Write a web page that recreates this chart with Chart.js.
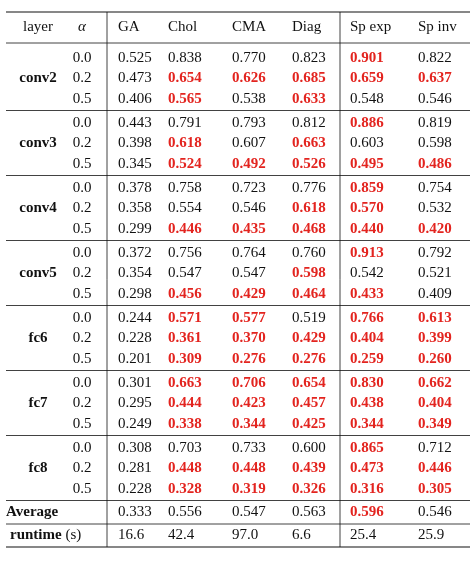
<!DOCTYPE html>
<html><head><meta charset="utf-8">
<script src="https://cdn.jsdelivr.net/npm/chart.js@4"></script>
<style>html,body{margin:0;padding:0;background:#fff}#w{width:474px;height:566px}</style>
</head><body><div id="w"><canvas id="c"></canvas></div>
<script>
const headers = ["layer","α","GA","Chol","CMA","Diag","Sp exp","Sp inv"];
const layers = ["conv2","conv3","conv4","conv5","fc6","fc7","fc8"];
const alphas = ["0.0","0.2","0.5"];
const values = [
 ["0.525","0.838","0.770","0.823","*0.901","0.822"],
 ["0.473","*0.654","*0.626","*0.685","*0.659","*0.637"],
 ["0.406","*0.565","0.538","*0.633","0.548","0.546"],
 ["0.443","0.791","0.793","0.812","*0.886","0.819"],
 ["0.398","*0.618","0.607","*0.663","0.603","0.598"],
 ["0.345","*0.524","*0.492","*0.526","*0.495","*0.486"],
 ["0.378","0.758","0.723","0.776","*0.859","0.754"],
 ["0.358","0.554","0.546","*0.618","*0.570","0.532"],
 ["0.299","*0.446","*0.435","*0.468","*0.440","*0.420"],
 ["0.372","0.756","0.764","0.760","*0.913","0.792"],
 ["0.354","0.547","0.547","*0.598","0.542","0.521"],
 ["0.298","*0.456","*0.429","*0.464","*0.433","0.409"],
 ["0.244","*0.571","*0.577","0.519","*0.766","*0.613"],
 ["0.228","*0.361","*0.370","*0.429","*0.404","*0.399"],
 ["0.201","*0.309","*0.276","*0.276","*0.259","*0.260"],
 ["0.301","*0.663","*0.706","*0.654","*0.830","*0.662"],
 ["0.295","*0.444","*0.423","*0.457","*0.438","*0.404"],
 ["0.249","*0.338","*0.344","*0.425","*0.344","*0.349"],
 ["0.308","0.703","0.733","0.600","*0.865","0.712"],
 ["0.281","*0.448","*0.448","*0.439","*0.473","*0.446"],
 ["0.228","*0.328","*0.319","*0.326","*0.316","*0.305"]
];
const average = ["0.333","0.556","0.547","0.563","*0.596","0.546"];
const runtime = ["16.6","42.4","97.0","6.6","25.4","25.9"];

const colX = [118,168,232,292,350,418];
const groupTop = 48, groupH = 65, rowH = 20.5;
const FONT = "'Liberation Serif', 'DejaVu Serif', serif";
const RED = "#e3241f";

const tablePlugin = {
  id:'table',
  afterDraw(chart){
    const ctx = chart.ctx, X = v=>chart.scales.x.getPixelForValue(v), Y = v=>chart.scales.y.getPixelForValue(v);
    ctx.save();
    ctx.textBaseline='middle';
    const txt=(s,x,y,opt={})=>{
      let red=false; if(s.startsWith('*')){red=true;s=s.slice(1);}
      ctx.font=(red||opt.bold?'bold ':'')+(opt.italic?'italic ':'')+'15px '+FONT;
      ctx.fillStyle=red?RED:'#111';
      ctx.textAlign=opt.align||'left';
      ctx.fillText(s,X(x),Y(y));
    };
    const hline=(y,w)=>{ctx.strokeStyle='#111';ctx.lineWidth=w||0.8;ctx.beginPath();ctx.moveTo(X(6),Y(y));ctx.lineTo(X(470),Y(y));ctx.stroke();};
    const vline=(x,y0,y1)=>{ctx.strokeStyle='#111';ctx.lineWidth=0.8;ctx.beginPath();ctx.moveTo(X(x),Y(y0));ctx.lineTo(X(x),Y(y1));ctx.stroke();};
    hline(12,1.2);
    txt(headers[0],38,27,{align:'center'}); txt(headers[1],82,27,{align:'center',italic:true});
    for(let c=0;c<6;c++) txt(headers[c+2],colX[c],27);
    hline(43,0.8);
    for(let g=0;g<layers.length;g++){
      const top=groupTop+g*groupH;
      for(let r=0;r<3;r++){
        const y=top+10+r*rowH, row=values[g*3+r];
        txt(alphas[r],82,y,{align:'center'});
        for(let c=0;c<6;c++) txt(row[c],colX[c],y);
      }
      txt(layers[g],38,top+10+rowH,{align:'center',bold:true});
      hline(top+groupH-2.5,0.8);
    }
    const avY=groupTop+7*groupH+9, rtY=avY+23;
    txt("Average",6,avY,{bold:true});
    for(let c=0;c<6;c++) txt(average[c],colX[c],avY);
    hline(avY+12,0.8);
    ctx.font='bold 15px '+FONT; ctx.fillStyle='#111'; ctx.textAlign='left';
    ctx.fillText("runtime",X(10),Y(rtY));
    const w=ctx.measureText("runtime ").width;
    ctx.font='15px '+FONT; ctx.fillText("(s)",X(10)+w,Y(rtY));
    for(let c=0;c<6;c++) txt(runtime[c],colX[c],rtY);
    hline(rtY+12,1.2);
    vline(107,12,rtY+12); vline(340,12,rtY+12);
    ctx.restore();
  }
};

new Chart(document.getElementById('c'),{
  type:'scatter',
  data:{datasets:[{data:[],showLine:false}]},
  options:{responsive:true,maintainAspectRatio:false,animation:false,
    layout:{padding:0},
    plugins:{legend:{display:false},tooltip:{enabled:false}},
    scales:{x:{type:'linear',min:0,max:474,display:false},y:{type:'linear',min:0,max:566,reverse:true,display:false}}},
  plugins:[tablePlugin]
});
</script></body></html>
